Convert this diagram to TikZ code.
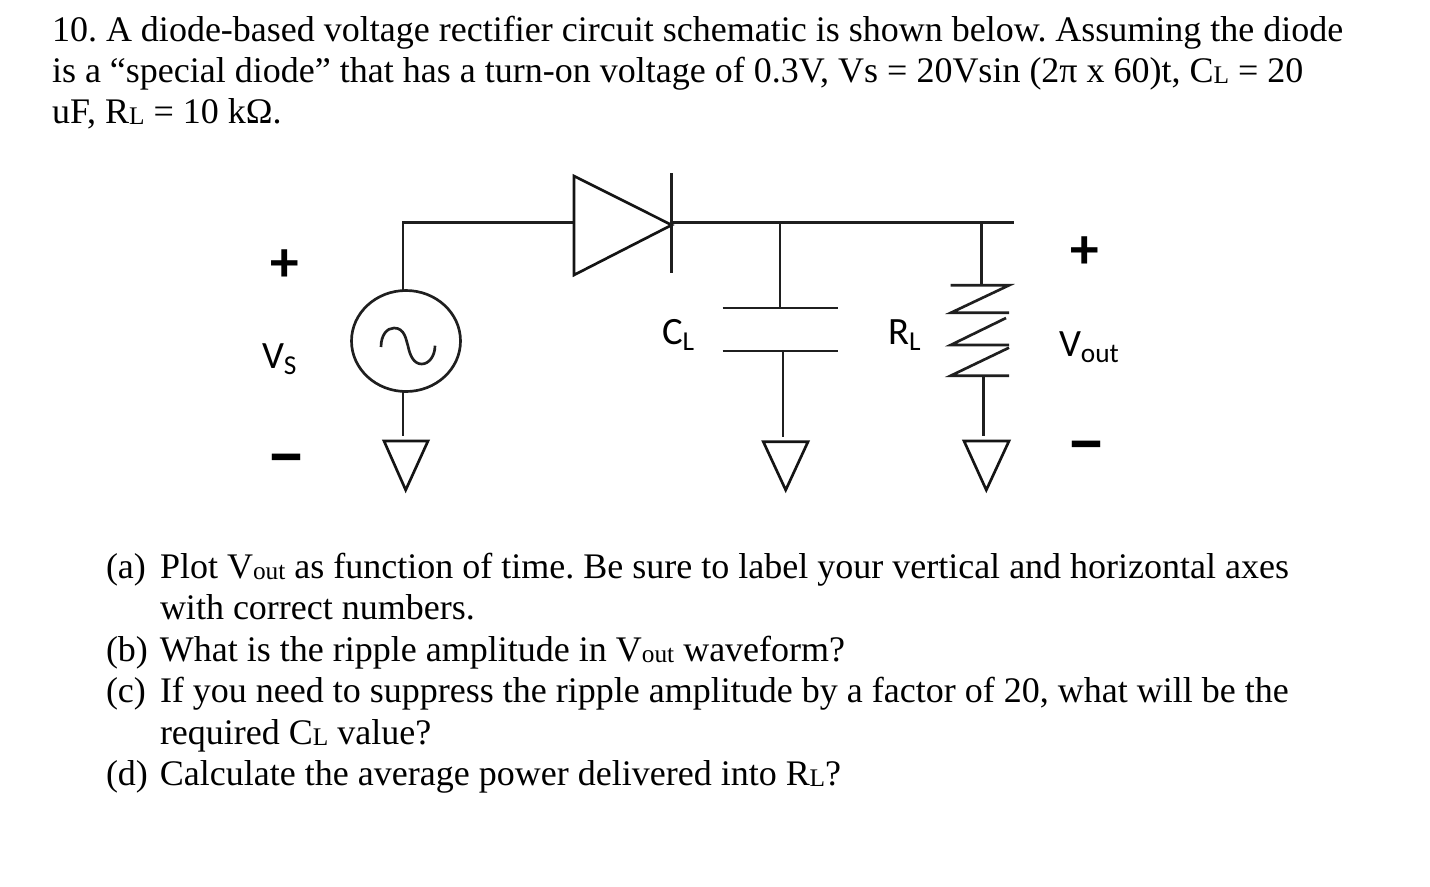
\documentclass[tikz,border=0pt]{standalone}
\usepackage{fontspec}
\setmainfont{Liberation Serif}
\newfontfamily\carlitofont{Carlito}
\newcommand{\smtxt}[1]{\raisebox{-1.2pt}{\fontsize{19}{21}\selectfont #1}}
\newcommand{\lowtxt}[1]{\raisebox{-0.16em}{\fontsize{20.5}{21}\selectfont #1}}
\newcommand{\tag}[1]{\makebox[40.5pt][l]{#1}}
\frenchspacing
\tikzset{
 body/.style={anchor=base west,inner sep=0pt,outer sep=0pt,font=\fontsize{27}{27}\selectfont},
 lab/.style={anchor=base west,inner sep=0pt,outer sep=0pt,font=\carlitofont\fontsize{29}{29}\selectfont},
 sign/.style={anchor=base,inner sep=0pt,outer sep=0pt,font=\carlitofont\bfseries\fontsize{43}{43}\selectfont},
 wire/.style={line width=2pt,black!88},
 gnd/.style={line width=2pt,black!92,line join=miter},
}
\begin{document}
\begin{tikzpicture}[x=0.75pt,y=-0.75pt]
\useasboundingbox (0,0) rectangle (1430,886);
\fill[white] (0,0) rectangle (1430,886);
\node[body] (t1) at (52,41) {10. A diode-based voltage rectifier circuit schematic is shown below. Assuming the diode};
\node[body] (t2) at (52,82) {is a “special diode” that has a turn-on voltage of 0.3V, Vs = 20Vsin (2π x 60)t, C\smtxt{L} = 20};
\node[body] (t3) at (52,123) {uF, R\smtxt{L} = 10 kΩ.};
\node[body] (a) at (106,578) {\tag{(a)}Plot V\smtxt{out} as function of time. Be sure to label your vertical and horizontal axes};
\node[body] (a2) at (160,619) {with correct numbers.};
\node[body] (b) at (106,661) {\tag{(b)}What is the ripple amplitude in V\smtxt{out} waveform?};
\node[body] (c) at (106,702) {\tag{(c)}If you need to suppress the ripple amplitude by a factor of 20, what will be the};
\node[body] (c2) at (160,744) {required C\smtxt{L} value?};
\node[body] (d) at (106,785) {\tag{(d)}Calculate the average power delivered into R\smtxt{L}?};
% labels
\node[lab] (vs) at (262,368) {V\lowtxt{S}};
\node[lab] (cl) at (662,344) {C\lowtxt{L}};
\node[lab] (rl) at (888,344) {R\lowtxt{L}};
\node[lab] (vo) at (1059,356) {V\lowtxt{out}};
\node[sign] (p1) at (285,281.3) {+};
\node[sign] (m1) at (286,478.6) {\scalebox{1.4}[1.3]{–}};
\node[sign] (p2) at (1085,268.3) {+};
\node[sign] (m2) at (1086.7,465.3) {\scalebox{1.4}[1.3]{–}};
% circuit
\coordinate (tl) at (403,222.7);
\coordinate (da) at (574,222.7);
\coordinate (dk) at (672,222.7);
\coordinate (te) at (1014,222.7);
\draw[wire] (406,341) ellipse[x radius=54.5,y radius=50.5];
\draw[wire] (403,290.5) -- (tl) -- (da);
\draw[gnd] (574,176) -- (671.7,225) -- (574,275) -- cycle;
\draw[wire] (671.7,173) -- (671.7,272.7);
\draw[wire] (dk) -- (te);
\draw[wire] (381,347) .. controls (381,335) and (387,328) .. (394,328) .. controls (405,328) and (406,340) .. (408,346) .. controls (410,356) and (414,364) .. (421.7,364) .. controls (429,364) and (435,356) .. (435,345.7);
\draw[wire] (403,392) -- (403,436);
\draw[gnd] (384,441) -- (428,441) -- (405.7,490) -- cycle;
% capacitor
\draw[wire] (780,222.7) -- (780,308);
\draw[wire] (722.7,308) -- (838,308);
\draw[wire] (722.7,351) -- (838,351);
\draw[wire] (783,351) -- (783,437);
\draw[gnd] (763.3,441.7) -- (808,441.7) -- (785.7,490) -- cycle;
% resistor
\draw[wire] (981.3,222.7) -- (981.3,285.3);
\draw[wire] (950.7,285.3) -- (1009,285.3) -- (951,312.7) -- (1009,312.7);
\draw[wire] (1006,318) -- (950.7,345) -- (1009,345);
\draw[wire] (1009,347.7) -- (950.7,375.7) -- (1009,375.7);
\draw[wire] (983.7,375.7) -- (983.7,436);
\draw[gnd] (964,441) -- (1009,441) -- (986.3,490) -- cycle;
\end{tikzpicture}
\end{document}
